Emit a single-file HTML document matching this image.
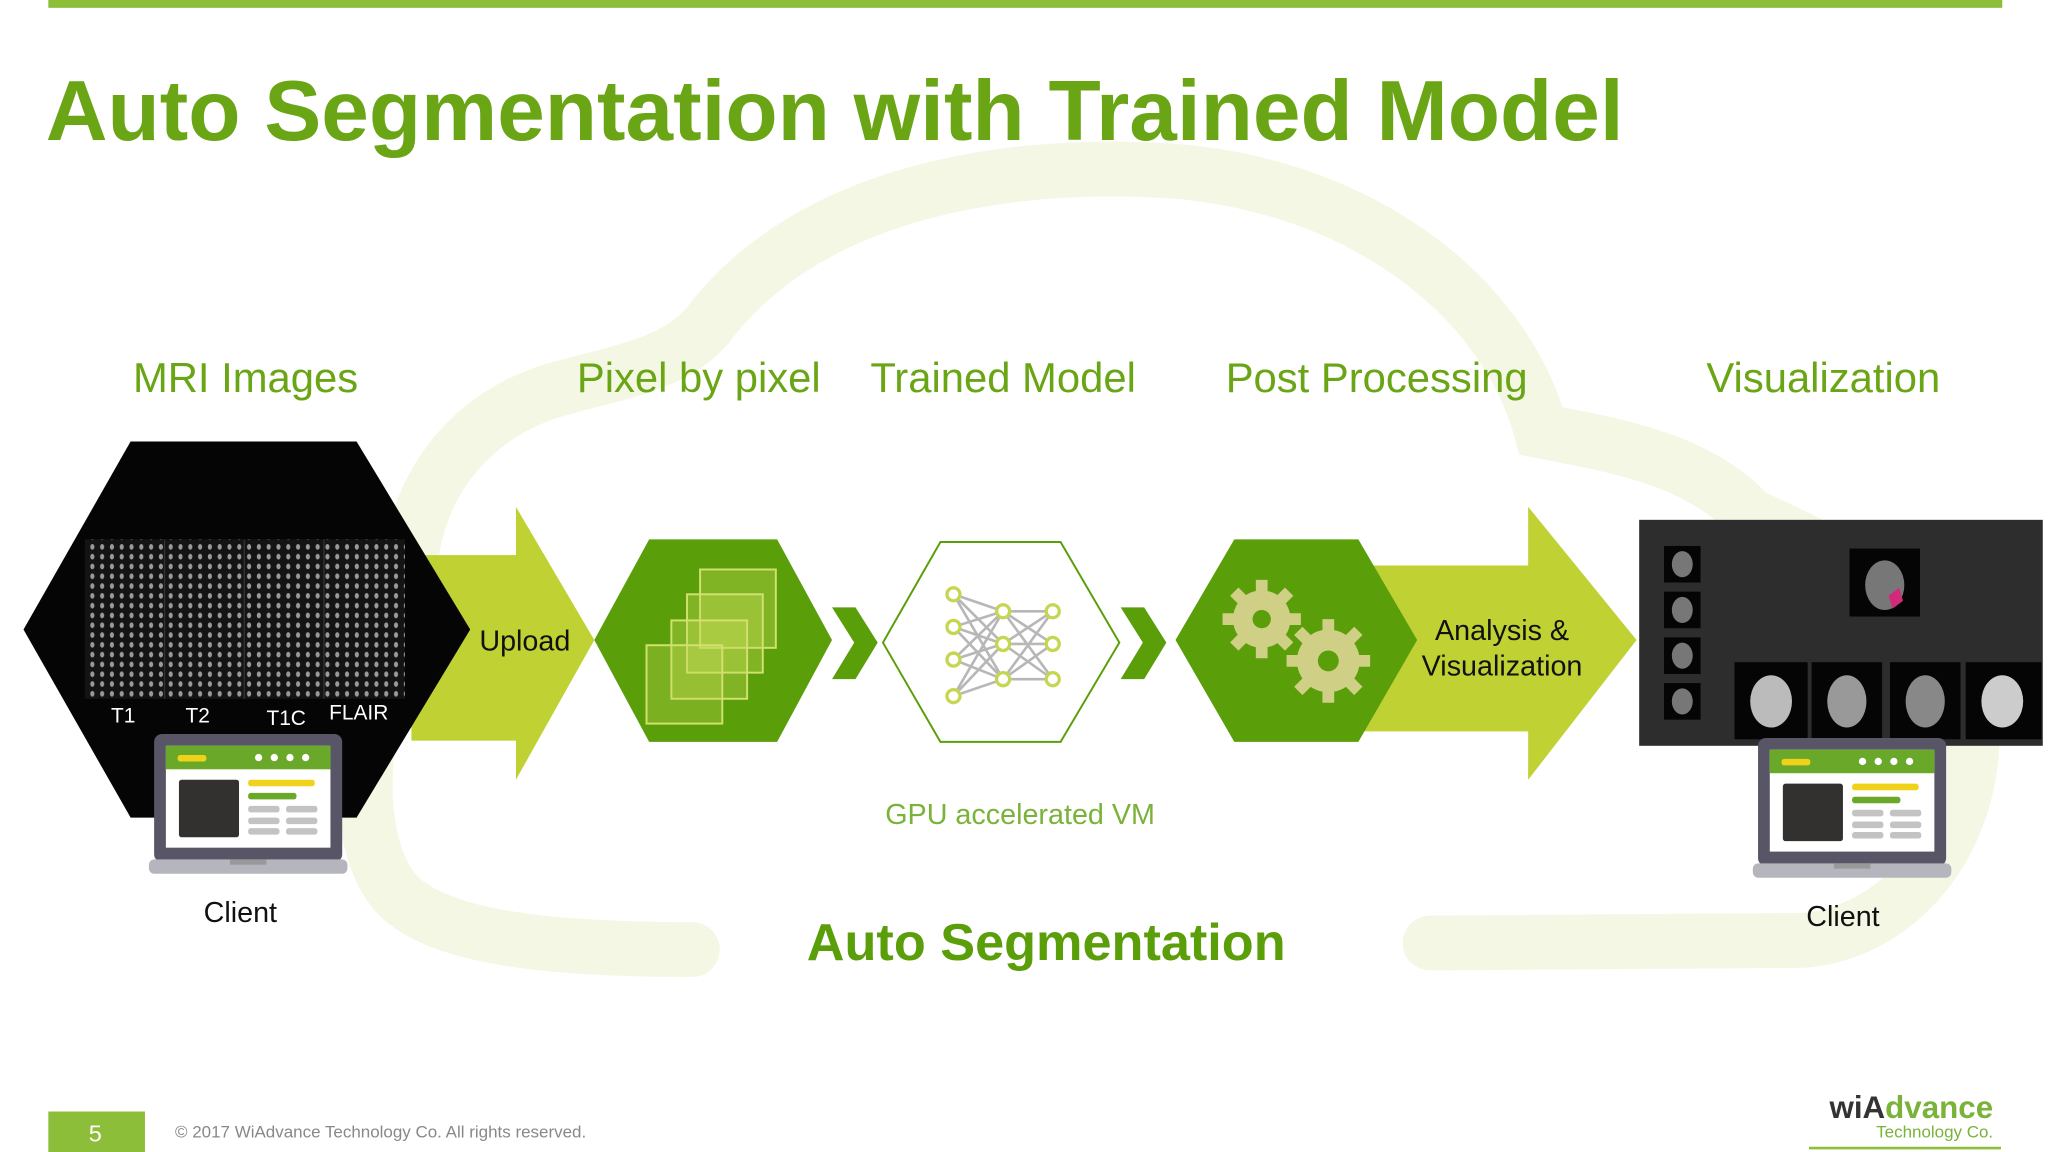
<!DOCTYPE html>
<html><head><meta charset="utf-8"><style>
html,body{margin:0;padding:0;background:#fff}
svg{display:block}
text{font-family:"Liberation Sans",sans-serif}
</style></head><body>
<svg width="2048" height="1152" viewBox="0 0 1568 882" xmlns="http://www.w3.org/2000/svg">
<defs>
<pattern id="mri" x="67" y="415" width="7.5" height="7.5" patternUnits="userSpaceOnUse">
<rect width="7.5" height="7.5" fill="#141414"/>
<ellipse cx="3.7" cy="3.7" rx="1.6" ry="2.2" fill="#9a9a9a"/>
</pattern>
</defs>
<rect width="1568" height="882" fill="#fff"/>
<!-- cloud -->
<path d="M530,727 C430,727 330,720 300,680 C270,640 270,540 320,480 C300,420 330,330 420,300 C470,285 520,280 545,245 C620,150 760,125 880,130 C1030,135 1150,220 1180,330 C1230,340 1300,350 1340,395 C1420,430 1510,480 1510,560 C1510,650 1450,715 1380,720 L1095,722" fill="none" stroke="#f4f7e3" stroke-width="42" stroke-linecap="round"/>
<!-- top bar -->
<rect x="37" y="0" width="1496" height="6" fill="#8cbe3a"/>
<text x="35" y="107" font-size="65.5" font-weight="bold" fill="#6aa516">Auto Segmentation with Trained Model</text>
<g font-size="32" fill="#6aa516" text-anchor="middle">
<text x="188" y="300">MRI Images</text>
<text x="535" y="300">Pixel by pixel</text>
<text x="768" y="300">Trained Model</text>
<text x="1054" y="300">Post Processing</text>
<text x="1396" y="300">Visualization</text>
</g>
<!-- upload arrow -->
<path d="M315,425 H395 V388 L455,490 L395,597 V567 H315 Z" fill="#bfd133"/>
<!-- black hex -->
<polygon points="18,482 100,338 273,338 360,482 273,626 100,626" fill="#050505"/>
<rect x="65" y="413" width="245" height="122" fill="url(#mri)"/>
<g stroke="#333" stroke-width="1"><line x1="126" y1="413" x2="126" y2="535"/><line x1="187" y1="413" x2="187" y2="535"/><line x1="248" y1="413" x2="248" y2="535"/></g>
<g font-size="16" fill="#fff">
<text x="85" y="553">T1</text><text x="142" y="553">T2</text><text x="204" y="555">T1C</text><text x="252" y="551">FLAIR</text>
</g>
<text x="367" y="498" font-size="22" fill="#111">Upload</text>
<!-- hex 1 -->
<polygon points="455,490 497,413 595,413 637,490 595,568 497,568" fill="#5a9e0a"/>
<g fill="#c9dc5a" fill-opacity="0.35" stroke="#d2e070" stroke-width="1.5">
<rect x="536" y="436" width="58" height="60"/><rect x="526" y="455" width="58" height="60"/><rect x="514" y="475" width="58" height="60"/><rect x="495" y="494" width="58" height="60" fill-opacity="0.3"/>
</g>
<polygon points="637,465 655,465 672,492 655,520 637,520 654,492" fill="#5a9e0a"/>
<!-- outline hex -->
<polygon points="676,492 720,415 812,415 857,492 812,568 720,568" fill="#fff" stroke="#5a9e0a" stroke-width="1.5"/>
<g stroke="#b7b7b7" stroke-width="2">
<path d="M730,455 L768,468 M730,455 L768,493 M730,455 L768,520 M730,480 L768,468 M730,480 L768,493 M730,480 L768,520 M730,505 L768,468 M730,505 L768,493 M730,505 L768,520 M730,533 L768,468 M730,533 L768,493 M730,533 L768,520 M768,468 L806,468 M768,468 L806,493 M768,468 L806,520 M768,493 L806,468 M768,493 L806,520 M768,520 L806,468 M768,520 L806,493 M768,520 L806,520 M768,493 L806,493"/>
</g>
<g fill="#fff" stroke="#c7d651" stroke-width="2.5">
<circle cx="730" cy="455" r="5"/><circle cx="730" cy="480" r="5"/><circle cx="730" cy="505" r="5"/><circle cx="730" cy="533" r="5"/>
<circle cx="768" cy="468" r="5"/><circle cx="768" cy="493" r="5"/><circle cx="768" cy="520" r="5"/>
<circle cx="806" cy="468" r="5"/><circle cx="806" cy="493" r="5"/><circle cx="806" cy="520" r="5"/>
</g>
<polygon points="858,465 876,465 893,492 876,520 858,520 875,492" fill="#5a9e0a"/>
<!-- analysis arrow -->
<path d="M1040,433 H1170 V388 L1253,490 L1170,597 V560 H1040 Z" fill="#bfd133"/>
<polygon points="900,490 945,413 1040,413 1085,490 1040,568 945,568" fill="#5a9e0a"/>
<g fill="#cfcf86">
<circle cx="966" cy="474" r="22"/>
<g stroke="#cfcf86" stroke-width="9">
<line x1="966" y1="444" x2="966" y2="504"/><line x1="936" y1="474" x2="996" y2="474"/><line x1="945" y1="453" x2="987" y2="495"/><line x1="945" y1="495" x2="987" y2="453"/>
</g>
<circle cx="1017" cy="506" r="24"/>
<g stroke="#cfcf86" stroke-width="9">
<line x1="1017" y1="474" x2="1017" y2="538"/><line x1="985" y1="506" x2="1049" y2="506"/><line x1="994" y1="483" x2="1040" y2="529"/><line x1="994" y1="529" x2="1040" y2="483"/>
</g>
</g>
<circle cx="966" cy="474" r="7" fill="#5a9e0a"/><circle cx="1017" cy="506" r="8" fill="#5a9e0a"/>
<g font-size="22" fill="#111" text-anchor="middle"><text x="1150" y="490">Analysis &amp;</text><text x="1150" y="517">Visualization</text></g>
<!-- screen -->
<rect x="1255" y="398" width="309" height="173" fill="#2d2d2d"/>
<g fill="#050505"><rect x="1274" y="418" width="28" height="28"/><rect x="1274" y="453" width="28" height="28"/><rect x="1274" y="488" width="28" height="28"/><rect x="1274" y="523" width="28" height="28"/>
<rect x="1416" y="420" width="54" height="52"/>
<rect x="1328" y="507" width="56" height="59"/><rect x="1387" y="507" width="54" height="59"/><rect x="1447" y="507" width="54" height="59"/><rect x="1505" y="507" width="58" height="59"/></g>
<g fill="#777"><ellipse cx="1288" cy="432" rx="8" ry="10"/><ellipse cx="1288" cy="467" rx="8" ry="10"/><ellipse cx="1288" cy="502" rx="8" ry="10"/><ellipse cx="1288" cy="537" rx="8" ry="10"/><ellipse cx="1443" cy="448" rx="15" ry="19"/></g>
<path d="M1446,456 l8,-6 l3,10 l-8,6 Z" fill="#d22a7a"/>
<g fill="#bbb"><ellipse cx="1356" cy="537" rx="16" ry="20"/><ellipse cx="1414" cy="537" rx="15" ry="20" fill="#999"/><ellipse cx="1474" cy="537" rx="15" ry="20" fill="#888"/><ellipse cx="1533" cy="537" rx="16" ry="20" fill="#ccc"/></g>
<!-- laptops -->
<g id="lap">
<rect x="118" y="562" width="144" height="98" rx="6" fill="#575566"/>
<rect x="127" y="571" width="126" height="78" fill="#fff"/>
<rect x="127" y="571" width="126" height="18" fill="#6aa82a"/>
<rect x="136" y="578" width="22" height="5" rx="2" fill="#f1d21a"/>
<g fill="#fff"><circle cx="198" cy="580" r="2.8"/><circle cx="210" cy="580" r="2.8"/><circle cx="222" cy="580" r="2.8"/><circle cx="234" cy="580" r="2.8"/></g>
<rect x="137" y="597" width="46" height="44" rx="2" fill="#333030"/>
<rect x="190" y="597" width="51" height="5" rx="2" fill="#f1d21a"/>
<rect x="190" y="607" width="37" height="5" rx="2" fill="#6aa82a"/>
<g fill="#c3c3c3"><rect x="190" y="617" width="24" height="5" rx="2"/><rect x="219" y="617" width="24" height="5" rx="2"/><rect x="190" y="626" width="24" height="5" rx="2"/><rect x="219" y="626" width="24" height="5" rx="2"/><rect x="190" y="634" width="24" height="5" rx="2"/><rect x="219" y="634" width="24" height="5" rx="2"/></g>
<rect x="114" y="658" width="152" height="11" rx="4" fill="#b5b5bd"/>
<rect x="176" y="658" width="28" height="4" fill="#999"/>
</g>
<use href="#lap" transform="translate(1228,3)"/>
<g font-size="22" fill="#111" text-anchor="middle"><text x="184" y="706">Client</text><text x="1411" y="709">Client</text></g>
<text x="781" y="631" font-size="22" fill="#7ab23a" text-anchor="middle">GPU accelerated VM</text>
<text x="801" y="735" font-size="40" font-weight="bold" fill="#5a9e0a" text-anchor="middle">Auto Segmentation</text>
<!-- footer -->
<rect x="37" y="851" width="74" height="31" fill="#8cbe3a"/>
<text x="73" y="874" font-size="18" fill="#fff" text-anchor="middle">5</text>
<text x="134" y="871" font-size="13" fill="#888">© 2017 WiAdvance Technology Co. All rights reserved.</text>
<text x="1526" y="856" font-size="24" font-weight="bold" text-anchor="end"><tspan fill="#333">wiA</tspan><tspan fill="#7ab23a">dvance</tspan></text>
<text x="1526" y="871" font-size="13" fill="#7ab23a" text-anchor="end">Technology Co.</text>
<rect x="1385" y="878" width="147" height="2" fill="#8cbe3a"/>
</svg>
</body></html>
